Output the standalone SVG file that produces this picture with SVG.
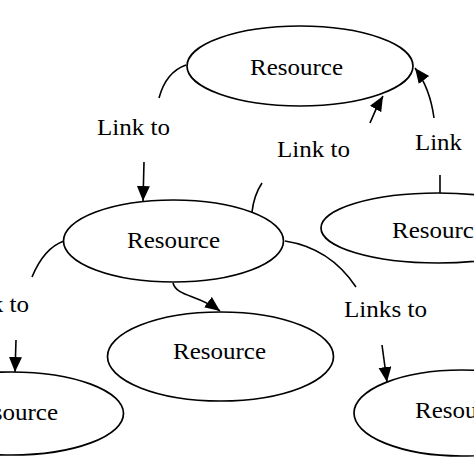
<svg xmlns="http://www.w3.org/2000/svg" width="474" height="474" viewBox="0 0 474 474">
<style>
.node ellipse{fill:#fff;stroke:#000;stroke-width:1.7}
text{font-family:"Liberation Serif","Times New Roman",serif;font-size:23.5px;fill:#000}
.conn path{fill:none;stroke:#000;stroke-width:1.6}
</style>
<defs>
<marker id="ah" markerUnits="userSpaceOnUse" markerWidth="16" markerHeight="14" refX="15" refY="6.5" orient="auto" viewBox="0 0 16 14">
<path d="M0,0 L15,6.5 L0,13 z" fill="#000"/>
</marker>
</defs>
<rect width="474" height="474" fill="#fff"/>
<g class="conn" id="connectors">
<path d="M186,65 Q166,72 159,98"/>
<path d="M144,162 L143,201" marker-end="url(#ah)"/>
<path d="M252,212 Q254,195 262,183"/>
<path d="M370,123 Q375,110 383,96" marker-end="url(#ah)"/>
<path d="M434,118 Q430,88 415,68" marker-end="url(#ah)"/>
<path d="M440,175 L440,193"/>
<path d="M64,241 Q44,248 32,277"/>
<path d="M285,241 Q330,248 356,287"/>
<path d="M173,283 C177,297 197,294 220,311" marker-end="url(#ah)"/>
<path d="M16,340 L15,372" marker-end="url(#ah)"/>
<path d="M382,345 L387,382" marker-end="url(#ah)"/>
</g>
<g id="labels">
<text x="97" y="135" textLength="73" lengthAdjust="spacingAndGlyphs">Link to</text>
<text x="277" y="157" textLength="73" lengthAdjust="spacingAndGlyphs">Link to</text>
<text x="415" y="150" textLength="47" lengthAdjust="spacingAndGlyphs">Link</text>
<text x="-44" y="312" textLength="73" lengthAdjust="spacingAndGlyphs">Link to</text>
<text x="344" y="317" textLength="83" lengthAdjust="spacingAndGlyphs">Links to</text>
</g>
<g class="node" id="n-top">
<ellipse cx="300" cy="66" rx="113" ry="40"/>
<text x="250" y="75" textLength="93" lengthAdjust="spacingAndGlyphs">Resource</text>
</g>
<g class="node" id="n-mid">
<ellipse cx="173.5" cy="241" rx="110" ry="41"/>
<text x="127" y="248" textLength="93" lengthAdjust="spacingAndGlyphs">Resource</text>
</g>
<g class="node" id="n-right">
<ellipse cx="438" cy="228" rx="117" ry="35"/>
<text x="392" y="238" textLength="93" lengthAdjust="spacingAndGlyphs">Resource</text>
</g>
<g class="node" id="n-center">
<ellipse cx="220.5" cy="356.5" rx="113" ry="44.5"/>
<text x="173" y="359" textLength="93" lengthAdjust="spacingAndGlyphs">Resource</text>
</g>
<g class="node" id="n-bl">
<ellipse cx="11.5" cy="413.5" rx="112" ry="41.5"/>
<text x="-35" y="420" textLength="93" lengthAdjust="spacingAndGlyphs">Resource</text>
</g>
<g class="node" id="n-br">
<ellipse cx="461.5" cy="413" rx="107.5" ry="43"/>
<text x="415" y="418" textLength="93" lengthAdjust="spacingAndGlyphs">Resource</text>
</g>
</svg>
